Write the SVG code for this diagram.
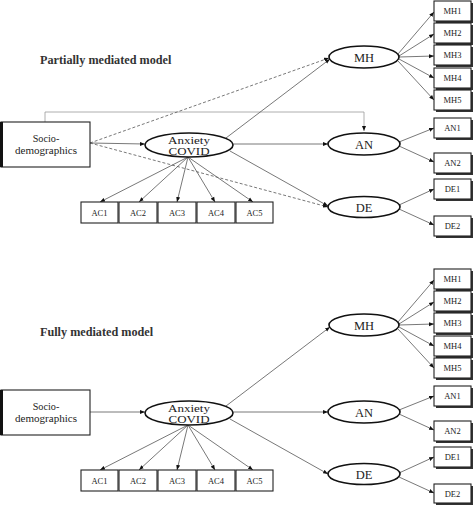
<svg xmlns="http://www.w3.org/2000/svg" width="474" height="506" viewBox="0 0 474 506">
<defs>
<marker id="ah" viewBox="0 0 10 10" refX="10" refY="5" markerWidth="5" markerHeight="5" orient="auto" markerUnits="userSpaceOnUse">
<path d="M0,1 L10,5 L0,9 z" fill="#111"/>
</marker>
<style>
text{font-family:"Liberation Serif","Times New Roman",serif;fill:#222;text-anchor:middle}
.title{font-size:12.2px;font-weight:bold;text-anchor:start;fill:#333}
.lat{fill:#fff;stroke:#111;stroke-width:1.6}
.box{fill:#fff;stroke:#222;stroke-width:1.1}
.sh{fill:#333}
.bt{font-size:8.5px}
.lt{font-size:12.5px}
.at{font-size:9.8px}
.st{font-size:10.2px}
.c{fill:none;stroke:#555;stroke-width:0.8;marker-end:url(#ah)}
.d{stroke-dasharray:3,2}
.e{fill:none;stroke:#999;stroke-width:0.8}
</style>
</defs>
<rect width="474" height="506" fill="#fff"/>
<text class="title" x="40" y="64">Partially mediated model</text>
<text class="title" x="40" y="336">Fully mediated model</text>

<g id="connectors">
<!-- top model -->
<path class="e" d="M45,122 V112 H364 V131" marker-end="url(#ah)"/>
<line class="c d" x1="90" y1="143" x2="329" y2="58"/>
<line class="c" x1="90" y1="143" x2="145" y2="144"/>
<line class="c d" x1="90" y1="143" x2="328" y2="207"/>
<line class="c" x1="226" y1="138" x2="330" y2="59"/>
<line class="c" x1="233" y1="144" x2="328" y2="144"/>
<line class="c" x1="230" y1="151" x2="328" y2="206"/>
<line class="c" x1="188" y1="157" x2="100" y2="202"/>
<line class="c" x1="188" y1="157" x2="139" y2="202"/>
<line class="c" x1="188" y1="157" x2="177" y2="202"/>
<line class="c" x1="188" y1="157" x2="215" y2="202"/>
<line class="c" x1="188" y1="157" x2="253" y2="202"/>
<line class="c" x1="398" y1="54" x2="434" y2="12"/>
<line class="c" x1="399" y1="56" x2="434" y2="34"/>
<line class="c" x1="399" y1="57" x2="434" y2="56"/>
<line class="c" x1="399" y1="59" x2="434" y2="78"/>
<line class="c" x1="398" y1="61" x2="434" y2="100"/>
<line class="c" x1="399" y1="142" x2="434" y2="128"/>
<line class="c" x1="399" y1="146" x2="434" y2="162"/>
<line class="c" x1="399" y1="205" x2="434" y2="189"/>
<line class="c" x1="399" y1="209" x2="434" y2="225"/>
<!-- bottom model -->
<line class="c" x1="90" y1="412" x2="145" y2="412"/>
<line class="c" x1="226" y1="406" x2="330" y2="327"/>
<line class="c" x1="233" y1="412" x2="328" y2="412"/>
<line class="c" x1="230" y1="419" x2="328" y2="474"/>
<line class="c" x1="188" y1="425" x2="100" y2="470"/>
<line class="c" x1="188" y1="425" x2="139" y2="470"/>
<line class="c" x1="188" y1="425" x2="177" y2="470"/>
<line class="c" x1="188" y1="425" x2="215" y2="470"/>
<line class="c" x1="188" y1="425" x2="253" y2="470"/>
<line class="c" x1="398" y1="322" x2="434" y2="280"/>
<line class="c" x1="399" y1="324" x2="434" y2="302"/>
<line class="c" x1="399" y1="325" x2="434" y2="324"/>
<line class="c" x1="399" y1="327" x2="434" y2="346"/>
<line class="c" x1="398" y1="329" x2="434" y2="368"/>
<line class="c" x1="399" y1="410" x2="434" y2="396"/>
<line class="c" x1="399" y1="414" x2="434" y2="430"/>
<line class="c" x1="399" y1="473" x2="434" y2="457"/>
<line class="c" x1="399" y1="477" x2="434" y2="493"/>
</g>

<!-- ===== top model nodes ===== -->
<g id="socio1"><rect class="box" x="1" y="122" width="89" height="45" stroke-width="1.3"/><rect x="0" y="122" width="3" height="45" fill="#111"/><text class="st" x="46" y="142">Socio-</text><text class="st" x="46" y="153.5" textLength="62" lengthAdjust="spacingAndGlyphs">demographics</text></g>
<g id="anx1"><ellipse class="lat" cx="189" cy="145" rx="44" ry="12"/><text class="at" x="189" y="143.5" textLength="42" lengthAdjust="spacingAndGlyphs">Anxiety</text><text class="at" x="189" y="154.5" textLength="41" lengthAdjust="spacingAndGlyphs">COVID</text></g>
<g id="mh1"><ellipse class="lat" cx="364" cy="57" rx="35" ry="11"/><text class="lt" x="364" y="61.5">MH</text></g>
<g id="an1"><ellipse class="lat" cx="364" cy="144" rx="36" ry="11"/><text class="lt" x="364" y="148.5">AN</text></g>
<g id="de1"><ellipse class="lat" cx="364" cy="207" rx="36" ry="10.5"/><text class="lt" x="364" y="211.5">DE</text></g>

<g id="t-MH1"><rect class="sh" x="436" y="3" width="37" height="20"/><rect class="box" x="434" y="1" width="37" height="20"/><text class="bt" x="452.5" y="14">MH1</text></g>
<g id="t-MH2"><rect class="sh" x="436" y="25" width="37" height="20"/><rect class="box" x="434" y="23" width="37" height="20"/><text class="bt" x="452.5" y="36">MH2</text></g>
<g id="t-MH3"><rect class="sh" x="436" y="47" width="37" height="20"/><rect class="box" x="434" y="45" width="37" height="20"/><text class="bt" x="452.5" y="58">MH3</text></g>
<g id="t-MH4"><rect class="sh" x="436" y="70" width="37" height="20"/><rect class="box" x="434" y="68" width="37" height="20"/><text class="bt" x="452.5" y="81">MH4</text></g>
<g id="t-MH5"><rect class="sh" x="436" y="92" width="37" height="20"/><rect class="box" x="434" y="90" width="37" height="20"/><text class="bt" x="452.5" y="103">MH5</text></g>
<g id="t-AN1"><rect class="sh" x="436" y="120" width="37" height="20"/><rect class="box" x="434" y="118" width="37" height="20"/><text class="bt" x="452.5" y="131">AN1</text></g>
<g id="t-AN2"><rect class="sh" x="436" y="155" width="37" height="20"/><rect class="box" x="434" y="153" width="37" height="20"/><text class="bt" x="452.5" y="166">AN2</text></g>
<g id="t-DE1"><rect class="sh" x="436" y="181" width="37" height="20"/><rect class="box" x="434" y="179" width="37" height="20"/><text class="bt" x="452.5" y="192">DE1</text></g>
<g id="t-DE2"><rect class="sh" x="436" y="218" width="37" height="20"/><rect class="box" x="434" y="216" width="37" height="20"/><text class="bt" x="452.5" y="229">DE2</text></g>

<g id="t-AC1"><rect class="box" x="81" y="202" width="37" height="21"/><text class="bt" x="99.5" y="215.5">AC1</text></g>
<g id="t-AC2"><rect class="box" x="119" y="202" width="38" height="21"/><text class="bt" x="138" y="215.5">AC2</text></g>
<g id="t-AC3"><rect class="box" x="158" y="202" width="38" height="21"/><text class="bt" x="177" y="215.5">AC3</text></g>
<g id="t-AC4"><rect class="box" x="197" y="202" width="38" height="21"/><text class="bt" x="216" y="215.5">AC4</text></g>
<g id="t-AC5"><rect class="box" x="236" y="202" width="37" height="21"/><text class="bt" x="254.5" y="215.5">AC5</text></g>

<!-- ===== bottom model nodes ===== -->
<g id="socio2"><rect class="box" x="1" y="390" width="89" height="45" stroke-width="1.3"/><rect x="0" y="390" width="3" height="45" fill="#111"/><text class="st" x="46" y="410">Socio-</text><text class="st" x="46" y="421.5" textLength="62" lengthAdjust="spacingAndGlyphs">demographics</text></g>
<g id="anx2"><ellipse class="lat" cx="189" cy="413" rx="44" ry="12"/><text class="at" x="189" y="411.5" textLength="42" lengthAdjust="spacingAndGlyphs">Anxiety</text><text class="at" x="189" y="422.5" textLength="41" lengthAdjust="spacingAndGlyphs">COVID</text></g>
<g id="mh2"><ellipse class="lat" cx="364" cy="325" rx="35" ry="11"/><text class="lt" x="364" y="329.5">MH</text></g>
<g id="an2"><ellipse class="lat" cx="364" cy="412" rx="36" ry="11"/><text class="lt" x="364" y="416.5">AN</text></g>
<g id="de2"><ellipse class="lat" cx="364" cy="474" rx="36" ry="10.5"/><text class="lt" x="364" y="478.5">DE</text></g>

<g id="b-MH1"><rect class="sh" x="436" y="271" width="37" height="20"/><rect class="box" x="434" y="269" width="37" height="20"/><text class="bt" x="452.5" y="282">MH1</text></g>
<g id="b-MH2"><rect class="sh" x="436" y="293" width="37" height="20"/><rect class="box" x="434" y="291" width="37" height="20"/><text class="bt" x="452.5" y="304">MH2</text></g>
<g id="b-MH3"><rect class="sh" x="436" y="315" width="37" height="20"/><rect class="box" x="434" y="313" width="37" height="20"/><text class="bt" x="452.5" y="326">MH3</text></g>
<g id="b-MH4"><rect class="sh" x="436" y="338" width="37" height="20"/><rect class="box" x="434" y="336" width="37" height="20"/><text class="bt" x="452.5" y="349">MH4</text></g>
<g id="b-MH5"><rect class="sh" x="436" y="360" width="37" height="20"/><rect class="box" x="434" y="358" width="37" height="20"/><text class="bt" x="452.5" y="371">MH5</text></g>
<g id="b-AN1"><rect class="sh" x="436" y="388" width="37" height="20"/><rect class="box" x="434" y="386" width="37" height="20"/><text class="bt" x="452.5" y="399">AN1</text></g>
<g id="b-AN2"><rect class="sh" x="436" y="423" width="37" height="20"/><rect class="box" x="434" y="421" width="37" height="20"/><text class="bt" x="452.5" y="434">AN2</text></g>
<g id="b-DE1"><rect class="sh" x="436" y="449" width="37" height="20"/><rect class="box" x="434" y="447" width="37" height="20"/><text class="bt" x="452.5" y="460">DE1</text></g>
<g id="b-DE2"><rect class="sh" x="436" y="486" width="37" height="19"/><rect class="box" x="434" y="484" width="37" height="19"/><text class="bt" x="452.5" y="497">DE2</text></g>

<g id="b-AC1"><rect class="box" x="81" y="470" width="37" height="21"/><text class="bt" x="99.5" y="483.5">AC1</text></g>
<g id="b-AC2"><rect class="box" x="119" y="470" width="38" height="21"/><text class="bt" x="138" y="483.5">AC2</text></g>
<g id="b-AC3"><rect class="box" x="158" y="470" width="38" height="21"/><text class="bt" x="177" y="483.5">AC3</text></g>
<g id="b-AC4"><rect class="box" x="197" y="470" width="38" height="21"/><text class="bt" x="216" y="483.5">AC4</text></g>
<g id="b-AC5"><rect class="box" x="236" y="470" width="37" height="21"/><text class="bt" x="254.5" y="483.5">AC5</text></g>
</svg>
